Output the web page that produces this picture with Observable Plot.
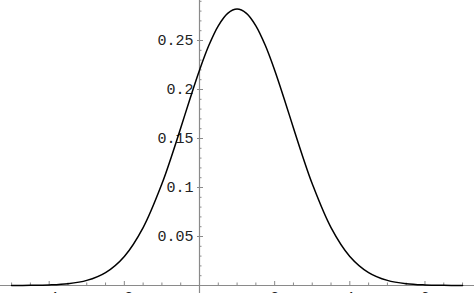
<!DOCTYPE html>
<html>
<head>
<meta charset="utf-8">
<script src="https://cdn.jsdelivr.net/npm/d3@7"></script>
<script src="https://cdn.jsdelivr.net/npm/@observablehq/plot@0.6"></script>
<style>
  html, body { margin: 0; padding: 0; background: white; }
</style>
</head>
<body>
<div id="chart"></div>
<script>
// Curve samples
const xs = [-5, -4.5, -4, -3.5, -3, -2.5, -2, -1.5, -1, -0.75, -0.5, -0.25, 0, 0.25, 0.5, 0.75, 1, 1.25, 1.5, 1.75, 2, 2.25, 2.5, 2.75, 3, 3.5, 4, 4.5, 5, 5.5, 6, 6.5, 7];
const ys = [0.00003, 0.00015, 0.00055, 0.0018, 0.0052, 0.0132, 0.0297, 0.0591, 0.1038, 0.1312, 0.1607, 0.1909, 0.2197, 0.2451, 0.2650, 0.2777, 0.2821, 0.2777, 0.2650, 0.2451, 0.2197, 0.1909, 0.1607, 0.1312, 0.1038, 0.0591, 0.0297, 0.0132, 0.0052, 0.0018, 0.00055, 0.00015, 0.00003];

// Ticks
const yMajor = [0.05, 0.1, 0.15, 0.2, 0.25];
const yMinor = [0.01,0.02,0.03,0.04,0.06,0.07,0.08,0.09,0.11,0.12,0.13,0.14,0.16,0.17,0.18,0.19,0.21,0.22,0.23,0.24,0.26,0.27,0.28,0.29];
const xMajor = [-4, -2, 2, 4, 6];
const xMinor = [-5,-4.5,-3.5,-3,-2.5,-1.5,-1,-0.5,0.5,1,1.5,2.5,3,3.5,4.5,5,5.5,6.5,7];
const xLabels = ["-4", "-2", "2", "4", "6"];

const curve = xs.map((x, i) => ({x, y: ys[i]}));

const W = 474, H = 293;
const pxX = 37.58;   // pixels per x unit
const pxY = 980;     // pixels per y unit
const x0 = 199, y0 = 285;
const xDomain = [-x0 / pxX, (W - x0) / pxX];
const yDomain = [-(H - y0) / pxY, y0 / pxY];

const axisColor = "#8a8a8a";
const font = "'Liberation Mono', 'DejaVu Sans Mono', monospace";

const plot = Plot.plot({
  width: W,
  height: H,
  margin: 0,
  x: {domain: xDomain, range: [0, W], axis: null},
  y: {domain: yDomain, range: [H, 0], axis: null},
  marks: [
    // axes lines
    Plot.ruleY([0], {x1: xDomain[0], x2: xDomain[1], stroke: axisColor, strokeWidth: 1.2}),
    Plot.ruleX([0], {y1: yDomain[0], y2: yDomain[1], stroke: axisColor, strokeWidth: 1.2}),
    // y ticks
    Plot.ruleY(yMajor, {y: d => d, x1: -2 / pxX, x2: 4 / pxX, stroke: axisColor}),
    Plot.ruleY(yMinor, {y: d => d, x1: 0, x2: 2.5 / pxX, stroke: axisColor}),
    // x ticks
    Plot.ruleX(xMajor, {x: d => d, y1: 0, y2: 4 / pxY, stroke: axisColor}),
    Plot.ruleX(xMinor, {x: d => d, y1: 0, y2: 2.5 / pxY, stroke: axisColor}),
    // y labels
    Plot.text(yMajor, {x: 0, y: d => d, text: d => String(d), textAnchor: "end", dx: -6,
      fontFamily: font, fontSize: 15, fill: "#222"}),
    // x labels (below the visible area in the reference; only their tops show)
    Plot.text(xMajor, {x: d => d, y: 0, text: (d, i) => xLabels[i], lineAnchor: "top", dy: 6,
      fontFamily: font, fontSize: 15, fill: "#222"}),
    // curve
    Plot.line(curve, {x: "x", y: "y", curve: "catmull-rom", stroke: "black", strokeWidth: 1.5})
  ]
});

document.getElementById("chart").appendChild(plot);
</script>
</body>
</html>
